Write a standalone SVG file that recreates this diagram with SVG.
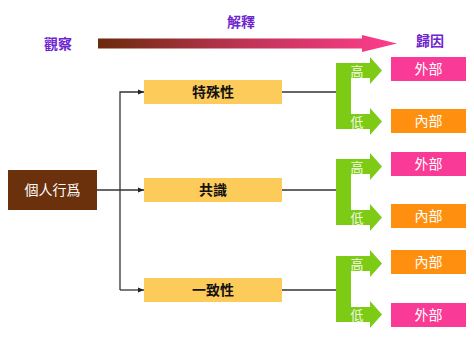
<svg xmlns="http://www.w3.org/2000/svg" width="474" height="339" viewBox="0 0 474 339">
<defs>
<linearGradient id="g" x1="0" y1="0" x2="1" y2="0">
<stop offset="0" stop-color="#6B2A0C"/>
<stop offset="0.5" stop-color="#C03456"/>
<stop offset="1" stop-color="#FF3D8E"/>
</linearGradient>
<marker id="ah" viewBox="0 0 10 10" refX="10" refY="5" markerWidth="6" markerHeight="6" markerUnits="userSpaceOnUse" orient="auto">
<path d="M0,1 L10,5 L0,9 z" fill="#222"/>
</marker>
<path id="br" d="M336,63 H370 V57 L382,70.5 L370,84 V78 H351 V114 H370 V108 L382,121.5 L370,135 V129 H336 Z"/>
</defs>
<style>
.t{font-family:"Noto Sans CJK TC","Noto Sans CJK SC",sans-serif;text-anchor:middle}
.pu{fill:#6E24CF;font-size:14px;font-weight:bold}
.yb{fill:#FDCB5A}
.yt{fill:#111;font-size:14px;font-weight:bold}
.wt{fill:#fff;font-size:14px}
.gl{fill:#F2FAE6;font-size:13px}
.pk{fill:#F93A96}
.or{fill:#FF8F0F}
.gr{fill:#7DCB14}
.ln{stroke:#333;stroke-width:1.3;fill:none}
</style>
<g id="top-labels">
<text class="t pu" x="241" y="27">解釋</text>
<text class="t pu" x="58" y="49">觀察</text>
<text class="t pu" x="430" y="46">歸因</text>
<path d="M98,38.5 H362 V35 L397,43.5 L362,52 V48.5 H98 Z" fill="url(#g)"/>
</g>
<g id="connectors">
<path class="ln" d="M97,190 H144" marker-end="url(#ah)"/>
<path class="ln" d="M120,290 V92 H144" marker-end="url(#ah)"/>
<path class="ln" d="M120,290 H144" marker-end="url(#ah)"/>
<path class="ln" d="M282,92 H336"/>
<path class="ln" d="M282,190 H336"/>
<path class="ln" d="M282,290 H336"/>
</g>
<g id="behavior">
<rect x="8" y="170" width="89" height="40" fill="#6B300C"/>
<text class="t wt" x="52.5" y="195">個人行爲</text>
</g>
<g id="distinctiveness">
<rect class="yb" x="144" y="80" width="138" height="24"/>
<text class="t yt" x="213" y="97">特殊性</text>
</g>
<g id="consensus">
<rect class="yb" x="144" y="178" width="138" height="24"/>
<text class="t yt" x="213" y="195">共識</text>
</g>
<g id="consistency">
<rect class="yb" x="144" y="278" width="138" height="24"/>
<text class="t yt" x="213" y="295">一致性</text>
</g>
<g id="branch1">
<use href="#br" class="gr"/>
<text class="t gl" x="357" y="76">高</text>
<text class="t gl" x="357" y="127">低</text>
</g>
<g id="branch2" transform="translate(0,96)">
<use href="#br" class="gr"/>
<text class="t gl" x="357" y="76">高</text>
<text class="t gl" x="357" y="127">低</text>
</g>
<g id="branch3" transform="translate(0,193)">
<use href="#br" class="gr"/>
<text class="t gl" x="357" y="76">高</text>
<text class="t gl" x="357" y="127">低</text>
</g>
<g id="r1"><rect class="pk" x="391" y="57" width="75" height="24"/><text class="t wt" x="428.5" y="74">外部</text></g>
<g id="r2"><rect class="or" x="391" y="109" width="75" height="24"/><text class="t wt" x="428.5" y="126">內部</text></g>
<g id="r3"><rect class="pk" x="391" y="152" width="75" height="24"/><text class="t wt" x="428.5" y="169">外部</text></g>
<g id="r4"><rect class="or" x="391" y="204" width="75" height="24"/><text class="t wt" x="428.5" y="221">內部</text></g>
<g id="r5"><rect class="or" x="391" y="250" width="75" height="24"/><text class="t wt" x="428.5" y="267">內部</text></g>
<g id="r6"><rect class="pk" x="391" y="303" width="75" height="24"/><text class="t wt" x="428.5" y="320">外部</text></g>
</svg>
